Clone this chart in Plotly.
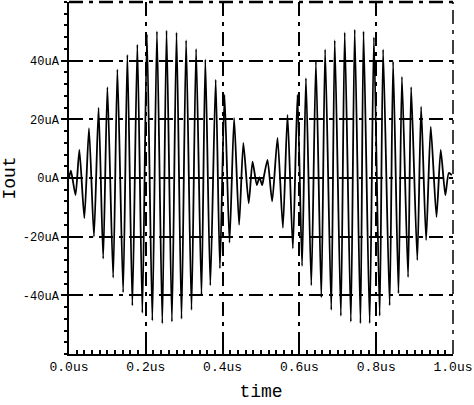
import plotly.graph_objects as go

# Extrema of the Iout waveform (time in us, current in uA)
time_us = [0.000, 0.005, 0.017, 0.027, 0.040, 0.052, 0.065, 0.077, 0.089, 0.100,
           0.115, 0.126, 0.141, 0.152, 0.165, 0.178, 0.191, 0.203, 0.217, 0.229,
           0.243, 0.254, 0.268, 0.280, 0.293, 0.305, 0.319, 0.331, 0.345, 0.355,
           0.368, 0.382, 0.393, 0.405, 0.418, 0.430, 0.443, 0.454, 0.468, 0.478,
           0.489, 0.496, 0.503, 0.508, 0.517, 0.529, 0.543, 0.557, 0.569, 0.583,
           0.595, 0.607, 0.617, 0.631, 0.643, 0.657, 0.667, 0.683, 0.692, 0.708,
           0.718, 0.734, 0.744, 0.759, 0.767, 0.783, 0.794, 0.809, 0.818, 0.835,
           0.844, 0.858, 0.867, 0.883, 0.891, 0.907, 0.917, 0.930, 0.942, 0.957,
           0.968, 0.980, 0.989, 0.997]
iout_uA = [0.0, 2.5, -5.8, 9.6, -13.7, 17.0, -20.0, 24.0, -27.5, 31.0,
           -34.0, 37.0, -39.0, 42.0, -43.5, 45.5, -46.0, 49.0, -48.6, 50.0,
           -49.6, 50.3, -49.0, 49.6, -48.0, 47.0, -45.0, 44.0, -40.0, 40.4,
           -36.6, 33.5, -30.8, 28.4, -22.0, 20.5, -16.0, 12.0, -8.6, 5.6,
           -2.4, 0.2, -2.4, 0.8, 6.2, -8.0, 13.7, -17.0, 21.5, -24.0,
           28.4, -30.0, 34.0, -36.6, 39.7, -40.7, 43.8, -45.0, 47.0, -47.0,
           49.6, -49.0, 50.6, -49.6, 50.0, -49.5, 48.0, -47.0, 43.8, -43.4,
           39.7, -39.3, 34.5, -33.8, 31.0, -28.0, 24.3, -21.2, 17.5, -13.3,
           9.6, -5.8, 1.7, 1.0]

x_ticks = [0.0, 0.2, 0.4, 0.6, 0.8, 1.0]
x_tick_text = ["0.0us", "0.2us", "0.4us", "0.6us", "0.8us", "1.0us"]
y_ticks = [-40, -20, 0, 20, 40]
y_tick_text = ["-40uA", "-20uA", "0uA", "20uA", "40uA"]

font_mono = "Liberation Mono, DejaVu Sans Mono, monospace"
grid_dash = "14px,6px,4px,6px"

fig = go.Figure()
fig.add_trace(go.Scatter(
    x=time_us, y=iout_uA, mode="lines",
    line=dict(color="black", width=1.8, shape="spline", smoothing=0.6),
    showlegend=False, hoverinfo="skip"))

fig.update_layout(
    width=474, height=405,
    margin=dict(l=69, r=21, t=2, b=51),
    paper_bgcolor="white", plot_bgcolor="white",
    font=dict(family=font_mono, color="black", size=12),
    xaxis=dict(
        range=[0, 1], tickvals=x_ticks, ticktext=x_tick_text,
        automargin=False,
        showgrid=True, gridcolor="black", gridwidth=1.5, griddash=grid_dash,
        showline=True, linecolor="black", linewidth=1.5,
        ticks="inside", ticklen=18, tickwidth=1.5, tickcolor="black",
        minor=dict(dtick=0.02, ticks="inside", ticklen=4, tickcolor="black", showgrid=False),
        zeroline=False,
        title=dict(text="time", font=dict(size=18, family=font_mono), standoff=10),
        tickfont=dict(size=13, family=font_mono)),
    yaxis=dict(
        range=[-60, 60], tickvals=y_ticks, ticktext=y_tick_text,
        automargin=False,
        showgrid=True, gridcolor="black", gridwidth=1.5, griddash=grid_dash,
        showline=True, linecolor="black", linewidth=1.5,
        ticks="outside", ticklen=6, tickwidth=1.5, tickcolor="black",
        minor=dict(dtick=4, ticks="outside", ticklen=3, tickcolor="black", showgrid=False),
        zeroline=False,
        title=dict(text="Iout", font=dict(size=18, family=font_mono), standoff=6),
        tickfont=dict(size=12, family=font_mono)),
)

# dash-dot frame on top and right
fig.add_shape(type="line", xref="paper", yref="paper", x0=0, x1=1, y0=1, y1=1,
              line=dict(color="black", width=2.5, dash=grid_dash))
fig.add_shape(type="line", xref="paper", yref="paper", x0=1, x1=1, y0=0, y1=1,
              line=dict(color="black", width=1.5, dash=grid_dash))

fig.write_html("out.html", config={"displayModeBar": False},
               post_script="document.body.style.margin='0';")
